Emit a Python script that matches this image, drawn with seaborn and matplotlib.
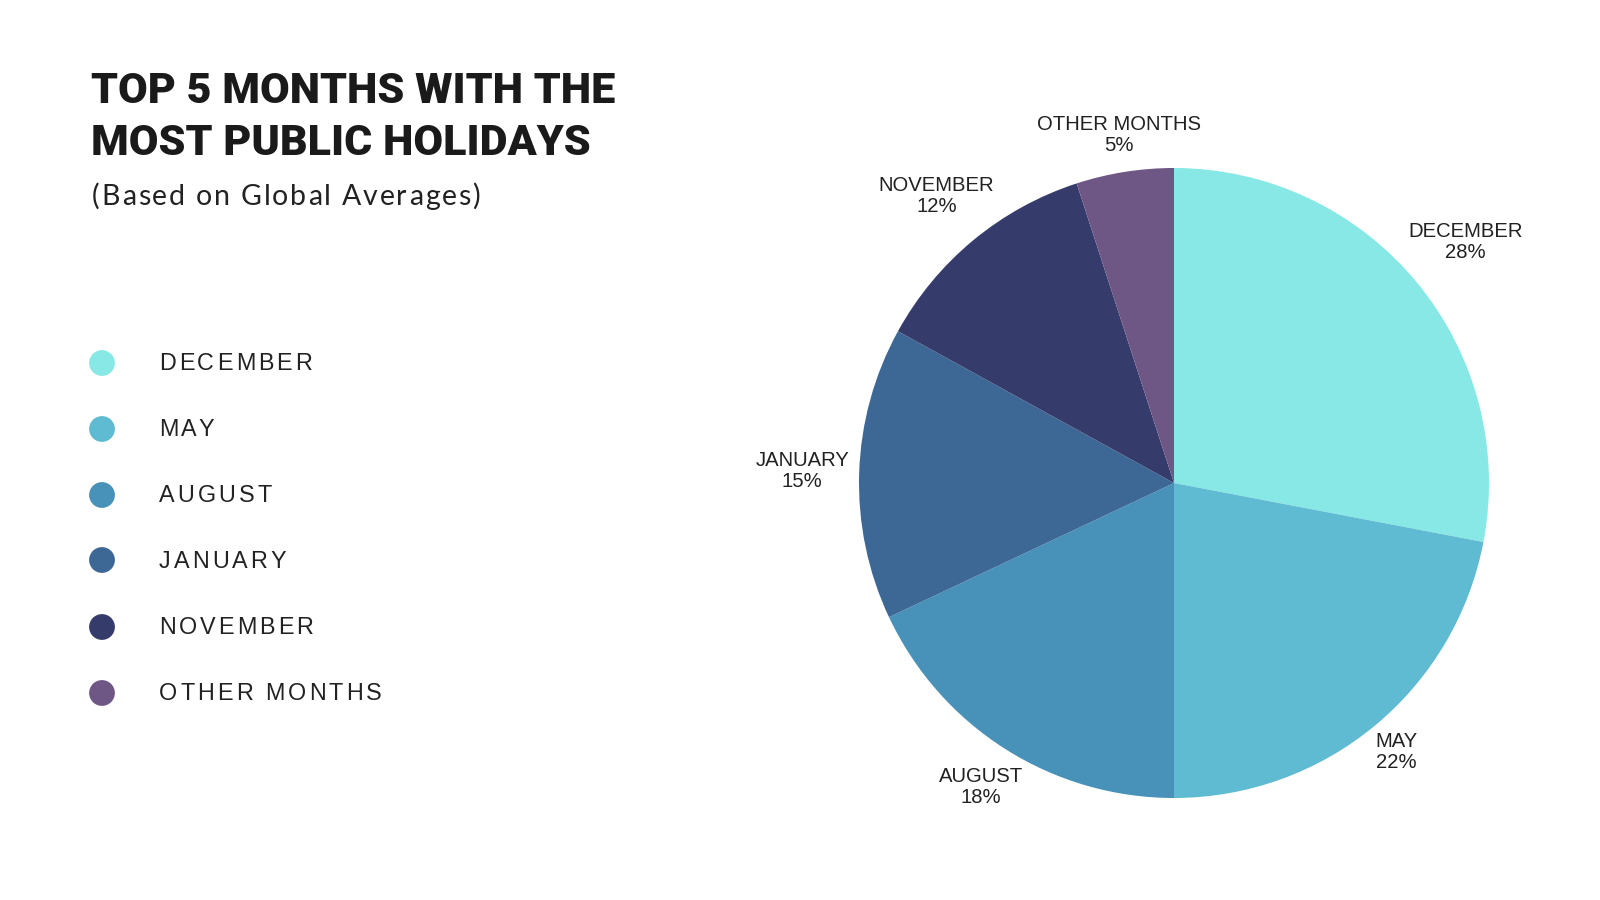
import matplotlib
matplotlib.use("Agg")
import numpy as np
import matplotlib.pyplot as plt
import seaborn as sns

months = ["DECEMBER", "MAY", "AUGUST", "JANUARY", "NOVEMBER", "OTHER MONTHS"]
shares = [28, 22, 18, 15, 12, 5]
colors = ["#87E8E6", "#5EBBD2", "#4891B8", "#3D6795", "#353C6B", "#6F5785"]
title_lines = ["TOP 5 MONTHS WITH THE", "MOST PUBLIC HOLIDAYS"]
subtitle = "(Based on Global Averages)"

sns.set_theme(style="white")
plt.rcParams["font.family"] = ["Liberation Sans", "DejaVu Sans"]

W, H = 1600, 900
fig = plt.figure(figsize=(16, 9), dpi=100)
fig.patch.set_facecolor("white")
renderer = fig.canvas.get_renderer()

# overlay axes in pixel coordinates for text and legend
ov = fig.add_axes([0, 0, 1, 1])
ov.set_xlim(0, W)
ov.set_ylim(H, 0)
ov.axis("off")


def text_width(s, **kw):
    t = ov.text(0, 0, s, **kw)
    w = t.get_window_extent(renderer=renderer).width
    t.remove()
    return w


def tracked_text(x, y, s, tracking, **kw):
    """Draw string s starting at x with extra letter spacing (pixels)."""
    for i, ch in enumerate(s):
        if ch == " ":
            continue
        off = text_width(s[:i + 1], **kw) - text_width(ch, **kw)
        ov.text(x + off + i * tracking, y, ch, ha="left", **kw)


# pie
cx, cy, R = 1174, 483, 315
pax = fig.add_axes([(cx - R) / W, (H - cy - R) / H, 2 * R / W, 2 * R / H])
labels = [f"{m}\n{s}%" for m, s in zip(months, shares)]
wedges, texts = pax.pie(shares, colors=colors, startangle=90, counterclock=False,
                        labels=labels, labeldistance=1.0,
                        wedgeprops=dict(linewidth=0),
                        textprops=dict(fontsize=14.6, color="#222222",
                                       family=["Liberation Sans", "DejaVu Sans"],
                                       linespacing=1.12))
pax.set_xlim(-1, 1)
pax.set_ylim(-1, 1)
pax.set_aspect("equal")
pax.axis("off")
gap = 0.03
for w, t in zip(wedges, texts):
    t.set_ha("center")
    t.set_va("center")
    bb = t.get_window_extent(renderer=renderer)
    hw = bb.width / 2 / R
    hh = bb.height / 2 / R * 0.75
    th = np.deg2rad((w.theta1 + w.theta2) / 2)
    d = 1 + gap + hw * abs(np.cos(th)) + hh * abs(np.sin(th))
    t.set_position((d * np.cos(th), d * np.sin(th)))

# title
for i, line in enumerate(title_lines):
    ov.text(91, 103 + i * 52, line, fontsize=31, fontweight="black",
            family=["Roboto", "DejaVu Sans"], color="#1a1a1a", va="baseline", ha="left")
tracked_text(92, 205, subtitle, 1.85, fontsize=20.5, family=["Lato", "DejaVu Sans"],
             color="#222222", va="baseline")

# legend dots via seaborn
leg_y = [363, 429, 495, 560, 627, 693]
sns.scatterplot(x=[102] * len(months), y=leg_y, hue=months, palette=colors,
                s=345, linewidth=0, legend=False, ax=ov)
ov.set_xlim(0, W)
ov.set_ylim(H, 0)
ov.axis("off")
for y, m in zip(leg_y, months):
    tracked_text(159, y + 1, m, 3.0, fontsize=16.8,
                 family=["Liberation Sans", "DejaVu Sans"],
                 color="#222222", va="center")

fig.savefig("out.png", dpi=100, facecolor="white")
